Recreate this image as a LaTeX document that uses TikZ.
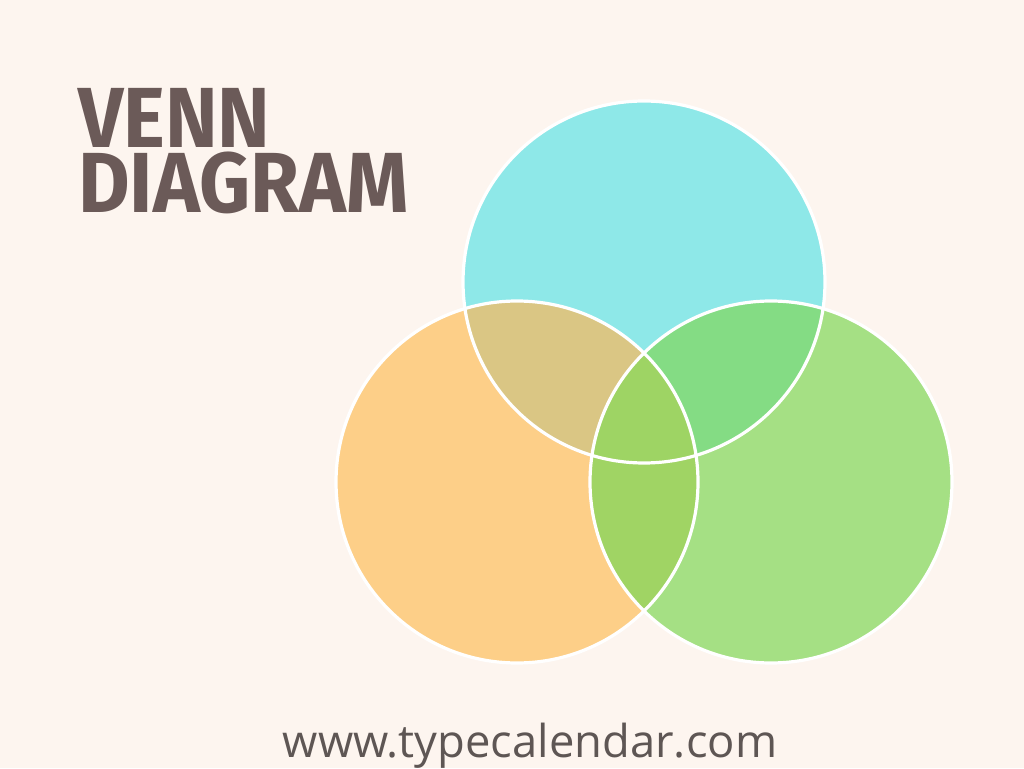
\documentclass[tikz,border=0pt]{standalone}
\usepackage{fontspec}
\setmainfont{Open Sans}
\newfontfamily\titlefont[FakeStretch=0.93]{Fira Sans}
\definecolor{paper}{HTML}{FDF5EF}
\definecolor{cyanset}{HTML}{8EE8E8}
\definecolor{orangeset}{HTML}{FDCF88}
\definecolor{greenset}{HTML}{A5E084}
\definecolor{cyanorange}{HTML}{DAC684}
\definecolor{cyangreen}{HTML}{84DC84}
\definecolor{orangegreen}{HTML}{A0D464}
\definecolor{allthree}{HTML}{9ED464}
\definecolor{titleink}{HTML}{6B5A58}
\definecolor{urlink}{HTML}{5E5654}

\begin{document}
\begin{tikzpicture}[
  x=0.75pt, y=0.75pt,
  ring/.style={draw=white, line width=2.4pt},
  heading/.style={anchor=base west, inner sep=0pt, align=left, text=titleink, font=\titlefont\bfseries\fontsize{64}{48.75}\selectfont},
  weblink/.style={anchor=base, inner sep=0pt, text=urlink, font=\fontsize{34}{34}\selectfont}
]
\useasboundingbox[fill=paper] (0,0) rectangle (1024,768);

% Set centres
\coordinate (top) at (644,486);
\coordinate (left) at (517,286);
\coordinate (right) at (771,286);

% Sets
\fill[cyanset] (top) circle[radius=181];
\fill[orangeset] (left) circle[radius=181];
\fill[greenset] (right) circle[radius=181];

% Overlaps
\begin{scope}
  \clip (top) circle[radius=181];
  \fill[cyanorange] (left) circle[radius=181];
  \fill[cyangreen] (right) circle[radius=181];
\end{scope}
\begin{scope}
  \clip (left) circle[radius=181];
  \fill[orangegreen] (right) circle[radius=181];
  \clip (right) circle[radius=181];
  \fill[allthree] (top) circle[radius=181];
\end{scope}

% Outlines
\draw[ring] (top) circle[radius=181];
\draw[ring] (left) circle[radius=181];
\draw[ring] (right) circle[radius=181];

% Texts
\node[heading] (title) at (78,555) {VENN\\DIAGRAM};
\node[weblink] (url) at (530,11) {www.typecalendar.com};

\end{tikzpicture}
\end{document}
